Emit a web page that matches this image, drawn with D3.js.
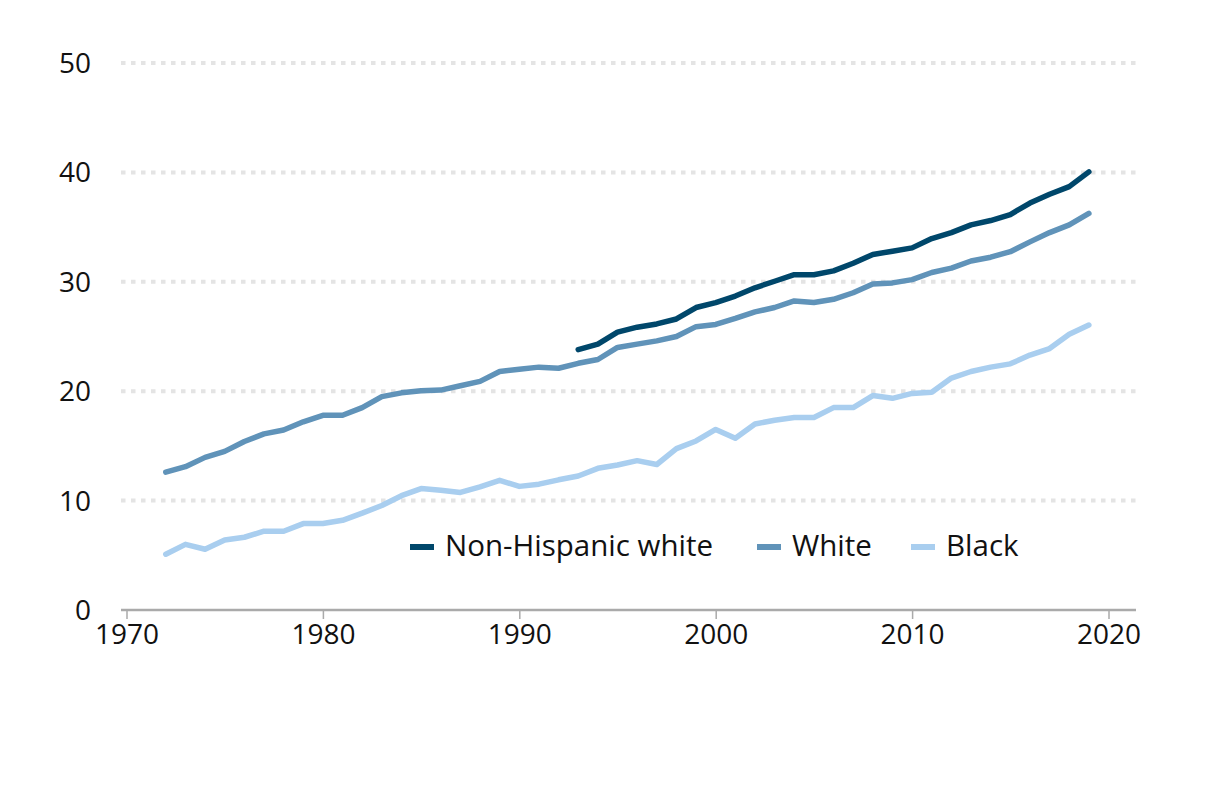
<!DOCTYPE html>
<html>
<head>
<meta charset="utf-8">
<script src="https://cdn.jsdelivr.net/npm/d3@7"></script>
<style>
  html, body { margin: 0; padding: 0; background: #fff; }
  svg { display: block; }
  text { font-family: "Open Sans", "Lato", sans-serif; fill: #111; }
</style>
</head>
<body>
<svg id="chart" width="1216" height="805"></svg>
<script>
const yearsWhite = d3.range(1972, 2020);
const yearsNHW = d3.range(1993, 2020);
const yearsBlack = d3.range(1972, 2020);

const whiteValues = [
  12.6, 13.1, 13.95, 14.5, 15.4, 16.1, 16.45, 17.2, 17.8, 17.8,
  18.5, 19.5, 19.85, 20.05, 20.1, 20.5, 20.9, 21.8, 22.0, 22.2,
  22.1, 22.55, 22.9, 24.0, 24.3, 24.6, 25.0, 25.9, 26.1, 26.65,
  27.25, 27.65, 28.25, 28.1, 28.4, 29.0, 29.8, 29.9, 30.2, 30.85,
  31.25, 31.9, 32.25, 32.75, 33.65, 34.5, 35.2, 36.25
];
const nhwValues = [
  23.8, 24.3, 25.4, 25.85, 26.15, 26.6, 27.65, 28.1, 28.7, 29.45,
  30.05, 30.65, 30.65, 31.0, 31.7, 32.5, 32.8, 33.1, 33.95, 34.5,
  35.2, 35.6, 36.15, 37.2, 38.0, 38.7, 40.05
];
const blackValues = [
  5.1, 6.0, 5.55, 6.4, 6.65, 7.2, 7.2, 7.9, 7.9, 8.2,
  8.85, 9.55, 10.45, 11.1, 10.95, 10.75, 11.25, 11.85, 11.3, 11.5,
  11.9, 12.25, 12.95, 13.25, 13.65, 13.3, 14.75, 15.45, 16.5, 15.7,
  17.0, 17.35, 17.6, 17.6, 18.5, 18.5, 19.6, 19.35, 19.8, 19.9,
  21.2, 21.8, 22.2, 22.5, 23.3, 23.9, 25.2, 26.05
];

const yTicks = [0, 10, 20, 30, 40, 50];
const xTicks = [1970, 1980, 1990, 2000, 2010, 2020];

const seriesNames = ["Non-Hispanic white", "White", "Black"];
const seriesColors = ["#00476b", "#6093b9", "#a9ceef"];

const series = [
  { name: seriesNames[0], color: seriesColors[0], data: yearsNHW.map((y, i) => [y, nhwValues[i]]) },
  { name: seriesNames[1], color: seriesColors[1], data: yearsWhite.map((y, i) => [y, whiteValues[i]]) },
  { name: seriesNames[2], color: seriesColors[2], data: yearsBlack.map((y, i) => [y, blackValues[i]]) }
];

const svg = d3.select("#chart");
const x = d3.scaleLinear().domain([1970, 2020]).range([126.5, 1108.5]);
const y = d3.scaleLinear().domain([0, 50]).range([610, 63]);
const plotLeft = 121, plotRight = 1136;

// gridlines
svg.append("g").selectAll("line")
  .data(yTicks.filter(d => d > 0))
  .join("line")
  .attr("x1", plotLeft).attr("x2", plotRight)
  .attr("y1", d => y(d)).attr("y2", d => y(d))
  .attr("stroke", "#e4e4e4")
  .attr("stroke-width", 4)
  .attr("stroke-dasharray", "4.5,5.5");

// y labels
svg.append("g").selectAll("text")
  .data(yTicks)
  .join("text")
  .attr("x", 91)
  .attr("y", d => y(d))
  .attr("dy", "0.36em")
  .attr("text-anchor", "end")
  .attr("font-size", 28)
  .text(d => d);

// x axis
const xAxis = d3.axisBottom(x).tickValues(xTicks).tickFormat(d3.format("d")).tickSize(9).tickPadding(5);
const gx = svg.append("g").attr("transform", "translate(0,610)").call(xAxis);
gx.select(".domain").remove();
gx.selectAll(".tick line").attr("stroke", "#aaaaaa").attr("stroke-width", 1.5);
gx.selectAll(".tick text").attr("font-size", 28).attr("font-family", "'Open Sans', Lato, sans-serif").attr("fill", "#111");
svg.append("line")
  .attr("x1", plotLeft).attr("x2", plotRight)
  .attr("y1", 610).attr("y2", 610)
  .attr("stroke", "#aaaaaa").attr("stroke-width", 2.5);

// lines
const line = d3.line().x(d => x(d[0])).y(d => y(d[1]));
svg.append("g").selectAll("path")
  .data([series[2], series[1], series[0]])
  .join("path")
  .attr("d", d => line(d.data))
  .attr("fill", "none")
  .attr("stroke", d => d.color)
  .attr("stroke-width", 5.5)
  .attr("stroke-linejoin", "round")
  .attr("stroke-linecap", "round");

// legend
const legendPos = [410, 757, 911];
const lg = svg.append("g").selectAll("g")
  .data(series)
  .join("g")
  .attr("transform", (d, i) => `translate(${legendPos[i]},545)`);
lg.append("rect").attr("x", 0).attr("y", -1).attr("width", 24).attr("height", 6).attr("fill", d => d.color);
lg.append("text").attr("x", 35).attr("y", 0).attr("dy", "0.36em").attr("font-size", 29.5).text(d => d.name);
</script>
</body>
</html>
